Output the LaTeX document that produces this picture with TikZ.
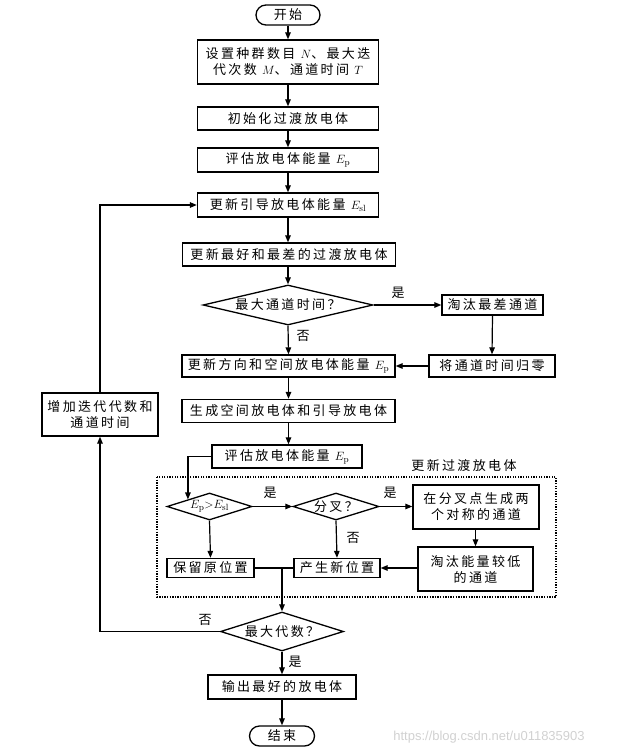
\documentclass[tikz,border=0pt]{standalone}
\usepackage[no-math]{fontspec}
\setmainfont{Noto Sans CJK SC}[LetterSpace=18]
\newfontfamily\wmfont{Liberation Sans}
\usetikzlibrary{arrows.meta,shapes.geometric,calc}
\begin{document}
\begin{tikzpicture}[x=1pt,y=-1pt,
  every node/.style={font=\fontsize{13pt}{16pt}\selectfont},
  box/.style={draw,line width=1.3pt,inner sep=1pt,align=center},
  term/.style={draw,line width=1.3pt,rounded corners=10pt,inner sep=1pt},
  dia/.style={draw,diamond,line width=1.3pt,inner sep=0pt,shape aspect=4},
  lbl/.style={inner sep=0pt},
  arr/.style={line width=1.2pt,-{Triangle[length=7pt,width=5.5pt]}},
  ln/.style={line width=1.2pt}]
\useasboundingbox (0,0) rectangle (616,754);
% main column
\node[term,minimum width=64,minimum height=20] (start) at (288,15) {开始};
\node[box,minimum width=181,minimum height=44] (b1) at (288,62) {设置种群数目 $N$、最大迭\\代次数 $M$、通道时间 $T$};
\node[box,minimum width=181,minimum height=23] (b2) at (288,118.5) {初始化过渡放电体};
\node[box,minimum width=181,minimum height=24] (b3) at (288,160) {评估放电体能量 $E_{\mathrm{p}}$};
\node[box,minimum width=181,minimum height=24] (b4) at (288,205) {更新引导放电体能量 $E_{\mathrm{sl}}$};
\node[box,minimum width=213,minimum height=23] (b5) at (289,254.5) {更新最好和最差的过渡放电体};
\node[dia,minimum width=170,minimum height=40] (D0) at (288,305) {最大通道时间？};
\node[lbl] (y1) at (398,293) {是};
\node[box,minimum width=101,minimum height=20] (bw) at (492.5,305) {淘汰最差通道};
\node[lbl] (n1) at (303,336) {否};
\node[box,minimum width=213,minimum height=22] (b6) at (288.5,366) {更新方向和空间放电体能量 $E_{\mathrm{p}}$};
\node[box,minimum width=126,minimum height=22] (bz) at (492,366) {将通道时间归零};
\node[box,minimum width=213,minimum height=23] (b7) at (288.5,411) {生成空间放电体和引导放电体};
\node[box,minimum width=116,minimum height=43] (bl) at (100,414.5) {增加迭代代数和\\通道时间};
\node[box,minimum width=150,minimum height=23] (b8) at (287,456.5) {评估放电体能量 $E_{\mathrm{p}}$};
% dotted frame
\draw[line width=1.2pt,dash pattern=on 1.3pt off 1.3pt] (157,477) rectangle (556,597);
\node[lbl] (frame) at (464,466) {更新过渡放电体};
\node[dia,minimum width=85,minimum height=27,inner xsep=-16pt] (d1) at (209.5,506.5) {$E_{\mathrm{p}}{>}E_{\mathrm{sl}}$};
\node[lbl] (y2) at (270,493) {是};
\node[dia,minimum width=86,minimum height=27,inner xsep=-8pt] (d2) at (336,506.5) {分叉？};
\node[lbl] (y3) at (390,493) {是};
\node[box,minimum width=126,minimum height=44] (bf) at (476,507) {在分叉点生成两\\个对称的通道};
\node[box,minimum width=115,minimum height=44] (bt) at (475.5,569) {淘汰能量较低\\的通道};
\node[box,minimum width=87,minimum height=19] (bk) at (210.5,568) {保留原位置};
\node[box,minimum width=86,minimum height=19] (bn) at (337,568) {产生新位置};
\node[lbl] (n2) at (353,538) {否};
\coordinate (j) at (282,568);
\node[dia,minimum width=123,minimum height=39] (D3) at (282,631.5) {最大代数？};
\node[lbl] (n3) at (205,620) {否};
\node[lbl] (y4) at (295,662) {是};
\node[box,minimum width=148,minimum height=24] (bo) at (282,687) {输出最好的放电体};
\node[term,minimum width=65,minimum height=20] (end) at (282,736) {结束};
\node[lbl,text=black!18,font=\wmfont\fontsize{13pt}{15pt}\selectfont] (wm) at (489,737) {https://blog.csdn.net/u011835903};
% connectors
\draw[arr] (start.south) -- (b1.north);
\draw[arr] (b1.south) -- (b2.north);
\draw[arr] (b2.south) -- (b3.north);
\draw[arr] (b3.south) -- (b4.north);
\draw[arr] (b4.south) -- (b4.south |- b5.north);
\draw[arr] (b4.south |- b5.south) -- (D0.north);
\draw[arr] (D0.east) -- (bw.west);
\draw[arr] (bw.south) -- (bz.north);
\draw[arr] (bz.west) -- (b6.east);
\draw[arr] (D0.south) -- (b6.north);
\draw[arr] (b6.south) -- (b7.north);
\draw[arr] (b7.south) -- (b7.south |- b8.north);
\draw[arr] (b8.west) -| (d1.north west);
\draw[arr] (d1.east) -- (d2.west);
\draw[arr] (d2.east) -- (d2.east -| bf.west);
\draw[arr] (bt.north |- bf.south) -- (bt.north);
\draw[arr] (bt.west |- bn.east) -- (bn.east);
\draw[arr] (d1.south) -- (bk.north);
\draw[arr] (d2.south) -- (bn.north);
\draw[ln] (bk.east) -- (bn.west);
\draw[arr] (j) -- (D3.north);
\draw[arr] (D3.west) -| (bl.south);
\draw[arr] (bl.north) |- (b4.west);
\draw[arr] (D3.south) -- (bo.north);
\draw[arr] (bo.south) -- (end.north);
\end{tikzpicture}
\end{document}
